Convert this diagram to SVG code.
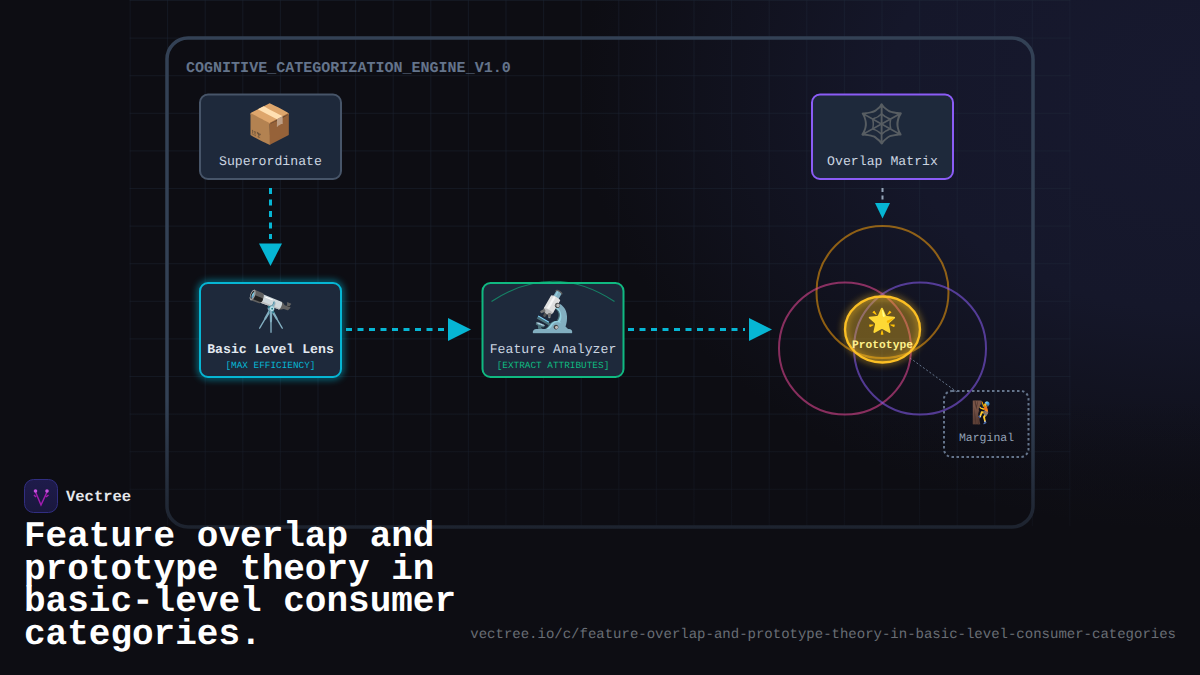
<svg xmlns="http://www.w3.org/2000/svg" width="1200" height="675" viewBox="0 0 1200 675">
<style>
text{text-rendering:geometricPrecision}
.m{font-family:"Liberation Mono",monospace}
.c{text-anchor:middle}
.e{font-family:"Noto Color Emoji",sans-serif;text-anchor:middle}
.n{fill:#1e293b;stroke-width:2}
.lab{font-size:13.2px;fill:#cbd5e1}
.tag{font-size:9.4px}
.cn{stroke:#06b6d4;stroke-width:3;stroke-dasharray:6 5.500;fill:none}
.ah{fill:#06b6d4}
.v{fill:none;stroke-width:2;stroke-opacity:.55}
.g{stroke:#1e293b;stroke-opacity:.75;stroke-width:1;fill:none}
.h{font-size:36px;font-weight:700;fill:#fff}
</style>
<defs>
<radialGradient id="tr" gradientUnits="userSpaceOnUse" cx="0" cy="0" r="1" gradientTransform="translate(1200 90) scale(620 440)"><stop offset="0" stop-color="#17192f"/><stop offset=".5" stop-color="#15172a"/><stop offset="1" stop-color="#0d0d13"/></radialGradient>
<linearGradient id="lg" x1="0" y1="0" x2="0" y2="1"><stop offset="0" stop-color="#1e1b4b"/><stop offset="1" stop-color="#1e1b4b" stop-opacity=".75"/></linearGradient>
<linearGradient id="scrim" x1="0" y1="0" x2="0" y2="1"><stop offset="0" stop-color="#0d0d13" stop-opacity="0"/><stop offset="1" stop-color="#0d0d13" stop-opacity=".9"/></linearGradient>
<filter id="gl" x="-30%" y="-30%" width="160%" height="160%"><feGaussianBlur stdDeviation="3.500"/></filter>
<pattern id="grid" width="37.6" height="37.6" patternUnits="userSpaceOnUse" x="129.500" y="0"><path d="M0 0H37.6M0 0V37.6" class="g"/></pattern>
</defs>
<rect width="1200" height="675" fill="#0d0d13"/>
<rect width="1200" height="675" fill="url(#tr)"/>
<rect x="129.500" y="0" width="941" height="526" fill="url(#grid)"/>
<g id="panel">
<rect x="167" y="38" width="866" height="489" rx="21" fill="none" stroke="#334155" stroke-width="3.500"/>
<text class="m" x="186" y="71.500" font-size="15.040" font-weight="700" fill="#64748b">COGNITIVE_CATEGORIZATION_ENGINE_V1.0</text>
</g>
<rect id="fade" y="400" width="1200" height="200" fill="url(#scrim)"/>
<g id="connectors">
<path class="cn" d="M270.500 188V239"/><path class="ah" d="M259 243.500H282L270.500 266Z"/>
<path class="cn" d="M346 329.500H444"/><path class="ah" d="M448 318V341L471 329.500Z"/>
<path class="cn" d="M628 329.500H745"/><path class="ah" d="M749 318V341L772 329.500Z"/>
<path d="M882.500 188V200" stroke="#94a3b8" stroke-width="2" stroke-dasharray="4 3.500" fill="none"/><path class="ah" d="M875 203H890L882.500 218.500Z"/>
<path d="M910 358L957 392" stroke="#64748b" stroke-width="1" stroke-dasharray="2 2" fill="none"/>
</g>
<g id="superordinate">
<rect class="n" x="200" y="94.500" width="141" height="84.500" rx="8" stroke="#475569"/>
<text class="e" x="270.500" y="137" font-size="38">📦</text>
<text class="m c lab" x="270.500" y="165">Superordinate</text>
</g>
<g id="overlap-matrix">
<rect class="n" x="812" y="94.500" width="141" height="84.500" rx="8" stroke="#8b5cf6"/>
<text class="e" x="882.500" y="137" font-size="38" opacity=".9">🕸️</text>
<text class="m c lab" x="882.500" y="165">Overlap Matrix</text>
</g>
<g id="basic-level-lens">
<rect x="200" y="283" width="141" height="94" rx="8" fill="none" stroke="#06b6d4" stroke-width="4" opacity=".8" filter="url(#gl)"/>
<rect class="n" x="200" y="283" width="141" height="94" rx="8" stroke="#06b6d4"/>
<text class="e" x="270.500" y="325" font-size="39.500">🔭</text>
<text class="m c lab" x="270.500" y="353" font-weight="700" style="fill:#e2e8f0">Basic Level Lens</text>
<text class="m c tag" x="270.500" y="367.500" fill="#06b6d4">[MAX EFFICIENCY]</text>
</g>
<g id="feature-analyzer">
<rect class="n" x="482.500" y="283" width="141" height="94" rx="8" stroke="#10b981"/>
<path d="M491.500 301.500Q553 261 614.500 301.500" fill="none" stroke="#10b981" stroke-width="1.200" opacity=".6"/>
<text class="e" x="553" y="325" font-size="39.500">🔬</text>
<text class="m c lab" x="553" y="353">Feature Analyzer</text>
<text class="m c tag" x="553" y="367.500" fill="#10b981">[EXTRACT ATTRIBUTES]</text>
</g>
<g id="venn">
<circle class="v" cx="882.500" cy="292" r="66" stroke="#f59e0b"/>
<circle class="v" cx="845" cy="348.500" r="66" stroke="#ec4899"/>
<circle class="v" cx="920" cy="348.500" r="66" stroke="#8b5cf6"/>
</g>
<g id="prototype">
<ellipse cx="882.500" cy="329.500" rx="37.500" ry="33" fill="none" stroke="#fbbf24" stroke-width="4" opacity=".6" filter="url(#gl)"/>
<ellipse cx="882.500" cy="329.500" rx="37.500" ry="33" fill="#fbbf24" fill-opacity=".38" stroke="#fbbf24" stroke-width="2.350"/>
<text class="e" x="882.500" y="329" font-size="24">🌟</text>
<text class="m c" x="882.500" y="348" font-size="11.280" font-weight="700" fill="#fef08a">Prototype</text>
</g>
<g id="marginal">
<rect x="944" y="391" width="84.500" height="66" rx="8" fill="none" stroke="#64748b" stroke-width="2" stroke-dasharray="2.500 2.500"/>
<text class="e" x="985" y="420" font-size="22">🧗</text>
<text class="m c" x="986.500" y="441" font-size="11.500" fill="#94a3b8">Marginal</text>
</g>
<g id="brand">
<rect x="24.500" y="479.500" width="33" height="33" rx="9" fill="url(#lg)" stroke="#312e81" stroke-width="1"/>
<path d="M35.500 492L41 505L47 492M36 497L34 495M46 497L48.500 495" fill="none" stroke="#a21caf" stroke-width="1.500"/>
<circle cx="35.500" cy="491" r="1.800" fill="#c850e0"/><circle cx="47" cy="491" r="1.800" fill="#c850e0"/>
<text class="m" x="66" y="500.500" font-size="15.500" font-weight="700" fill="#e5e7eb">Vectree</text>
</g>
<g id="title">
<text class="m h" x="24" y="546.400">Feature overlap and</text>
<text class="m h" x="24" y="578.800">prototype theory in</text>
<text class="m h" x="24" y="611.200">basic-level consumer</text>
<text class="m h" x="24" y="643.600">categories.</text>
</g>
<text class="m" x="1176" y="637.500" font-size="14" fill="#696d75" text-anchor="end">vectree.io/c/feature-overlap-and-prototype-theory-in-basic-level-consumer-categories</text>
</svg>
